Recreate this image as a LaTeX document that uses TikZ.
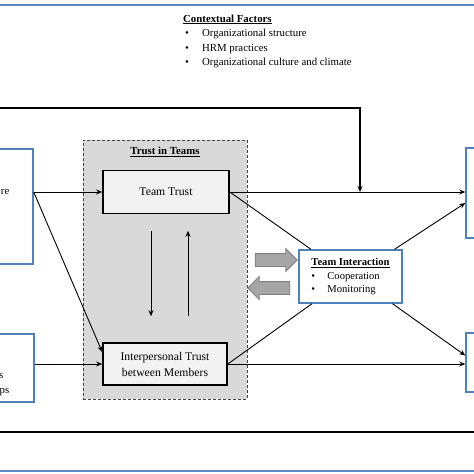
\documentclass[tikz,border=0pt]{standalone}
\usepackage{fontspec}
\setmainfont{Liberation Serif}
\usepackage{xcolor}
\usepackage{tikz}
\usetikzlibrary{arrows.meta,positioning,shapes.arrows}
\definecolor{frameblue}{HTML}{4F81BD}
\definecolor{ruleblue}{HTML}{5B8AC6}
\definecolor{panelgrey}{HTML}{D9D9D9}
\definecolor{boxgrey}{HTML}{F2F2F2}
\definecolor{blockgrey}{HTML}{A6A6A6}
\definecolor{blockedge}{HTML}{7F7F7F}
\tikzset{
    every picture/.style={line join=miter},
    smalltext/.style={font=\fontsize{10.8}{14.5}\selectfont},
    bluebox/.style={draw=frameblue,fill=white,line width=1.4pt,inner sep=0pt},
    trustbox/.style={draw=black,fill=boxgrey,line width=1.6pt,inner sep=0pt,
      align=center,font=\fontsize{11.7}{16}\selectfont},
    panel/.style={draw=black!75,fill=panelgrey,densely dashed,line width=0.9pt},
    flowarrow/.style={-{Stealth[length=6pt,width=5pt]},draw=black,line width=0.9pt},
    plainline/.style={draw=black,line width=0.9pt},
    blockarrow/.style={single arrow,draw=blockedge,fill=blockgrey,line width=0.8pt,
      minimum height=42pt,minimum width=22pt,single arrow head extend=5pt,
      inner xsep=0pt,inner ysep=6pt}
}

\begin{document}
\begin{tikzpicture}[x=1pt,y=-1pt]
  \useasboundingbox (0,0) rectangle (474,474);
  \draw[ruleblue,line width=2.5pt] (0,5) -- (474,5);
  \draw[ruleblue,line width=2.5pt] (0,471) -- (474,471);

  \node[smalltext,anchor=base west,inner sep=0pt] (ctx) at (183,22) {%
    \begin{tabular}[t]{@{}l@{}}
      \underline{\textbf{Contextual Factors}}\\
      \hspace{2pt}\makebox[17pt][l]{\textbullet}Organizational structure\\
      \hspace{2pt}\makebox[17pt][l]{\textbullet}HRM practices\\
      \hspace{2pt}\makebox[17pt][l]{\textbullet}Organizational culture and climate
    \end{tabular}};

  % trust in teams panel
  \node[panel,minimum width=164pt,minimum height=259pt] (panel) at (165,269.5) {};
  \node[smalltext] (paneltitle) at (165,152) {\underline{\textbf{Trust in Teams}}};
  \node[trustbox,minimum width=126pt,minimum height=43pt] (tt) at (166,192) {Team Trust};
  \node[trustbox,minimum width=124pt,minimum height=42pt] (ip) at (165,364)
    {Interpersonal Trust\\between Members};

  % outer boxes
  \node[bluebox,minimum width=53pt,minimum height=115pt] (lf1) at (6.5,206.5) {};
  \node[smalltext,anchor=east,inner sep=0pt] (lf1txt) at (9.5,192) {re};
  \node[bluebox,minimum width=54pt,minimum height=68pt] (lf2) at (7,368) {};
  \node[smalltext,anchor=east,inner sep=0pt] (lf2txta) at (3.5,376) {s};
  \node[smalltext,anchor=east,inner sep=0pt] (lf2txtb) at (9.5,392) {ps};
  \node[bluebox,minimum width=44pt,minimum height=90pt] (rb1) at (488,193) {};
  \node[bluebox,minimum width=44pt,minimum height=59pt] (rb2) at (488,362.5) {};

  \node[bluebox,minimum width=103pt,minimum height=53pt,
    font=\fontsize{10.6}{13.5}\selectfont] (ti) at (350.5,276.5) {%
    \begin{tabular}{@{}l@{}}
      \multicolumn{1}{@{}c@{}}{\underline{\textbf{Team Interaction}}}\\
      \makebox[16pt][l]{\textbullet}Cooperation\\
      \makebox[16pt][l]{\textbullet}Monitoring
    \end{tabular}};
  \node[blockarrow] (toti) at (273,260) {};
  \node[blockarrow,shape border rotate=180] (fromti) at (272,288) {};

  % context frame
  \coordinate (ctxin) at (0,108);
  \coordinate (ctxdrop) at (360,108);
  \coordinate (baseL) at (0,432);
  \coordinate (baseR) at (474,432);
  \draw[line width=1.2pt] (baseL) -- (baseR);
  \draw[flowarrow,line width=1.2pt] (ctxin) -- (ctxdrop) -- (ctxdrop |- tt.east);

  \draw[flowarrow] (lf1.east |- tt.west) -- (tt.west);
  \draw[flowarrow] (lf1.east |- tt.west) -- ([yshift=12pt]ip.west);
  \draw[flowarrow] (lf2.east |- ip.west) -- (ip.west);
  \draw[flowarrow] ([xshift=-15pt,yshift=-16.5pt]tt.south) -- ([xshift=-14pt,yshift=26pt]ip.north);
  \draw[flowarrow] ([xshift=23pt,yshift=26pt]ip.north) -- ([xshift=22pt,yshift=-16.5pt]tt.south);
  \draw[flowarrow] (tt.east) -- (rb1.west |- tt.east);
  \draw[flowarrow] (ip.east) -- (rb2.west |- ip.east);
  \draw[plainline] (tt.east) -- ([xshift=-39.5pt]ti.north);
  \draw[plainline] (ip.east) -- ([xshift=-38.5pt]ti.south);
  \draw[flowarrow] ([xshift=44pt]ti.north) -- ([yshift=-10pt]rb1.west);
  \draw[flowarrow] ([xshift=42pt]ti.south) -- ([yshift=7pt]rb2.west);
\end{tikzpicture}
\end{document}
